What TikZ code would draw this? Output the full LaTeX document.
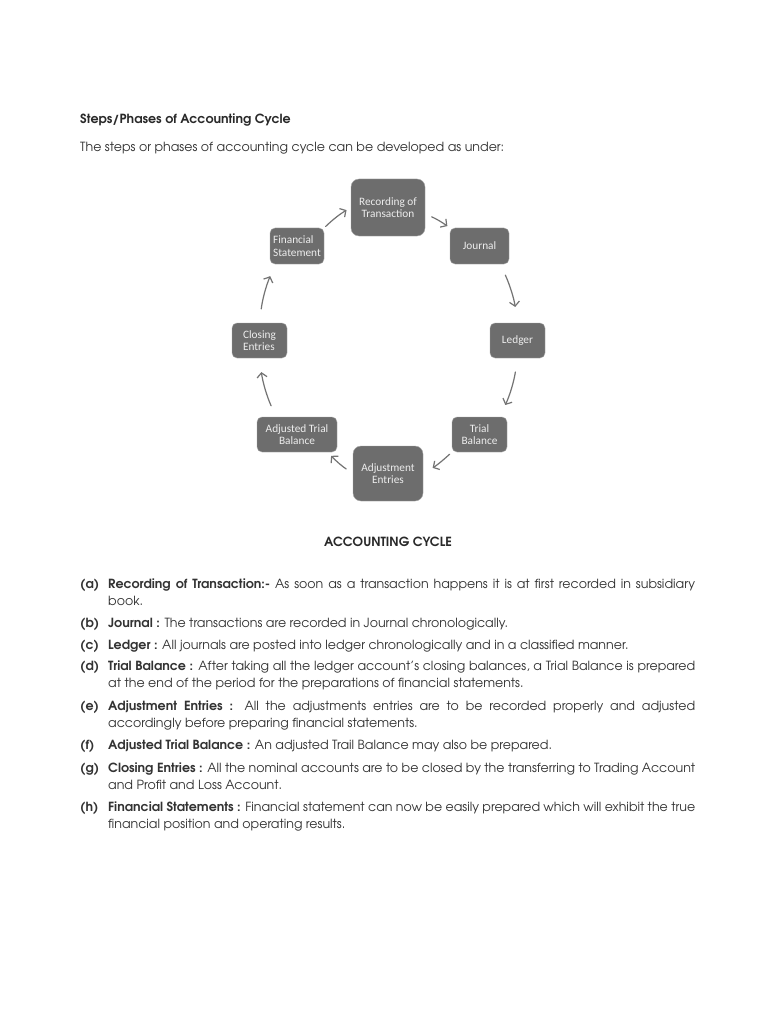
\documentclass[tikz,border=0pt]{standalone}
\usepackage{fontspec}
\setmainfont{TeX Gyre Adventor}
\newfontfamily\boxfont{Carlito}
\usetikzlibrary{arrows.meta}
\definecolor{boxgray}{HTML}{6D6D6D}
\definecolor{arrgray}{HTML}{737373}
\definecolor{txtgray}{HTML}{333333}
\hyphenpenalty=10000
\exhyphenpenalty=10000
\begin{document}
\begin{tikzpicture}[x=1pt,y=-1pt,line join=round,line cap=round,
	stage/.style={draw=boxgray!60,fill=boxgray,rounded corners=5pt,text=white!93!black,font=\boxfont\fontsize{11.3}{12.5}\selectfont,align=center,inner sep=2pt},
	cyc/.style={draw=arrgray,line width=1.2pt,-{Straight Barb[length=4.5pt,width=10pt]}},
	head/.style={anchor=base west,inner sep=0pt,text=txtgray!80!black,font=\bfseries\fontsize{12.6}{17}\selectfont},
	lbl/.style={anchor=base west,inner sep=0pt,text=txtgray,font=\bfseries\fontsize{12.6}{17}\selectfont},
	item/.style={anchor=base west,inner sep=0pt,text width=587pt,align=justify,text=txtgray,font=\fontsize{12.6}{17}\selectfont}]
	\useasboundingbox[fill=white] (0,0) rectangle (768,1024);
	\node[head] (title) at (80,124) {Steps/Phases of Accounting Cycle};
	\node[item,text width=] (intro) at (80,152) {The steps or phases of accounting cycle can be developed as under:};
	\node[stage,minimum width=74pt,minimum height=57pt,rounded corners=8pt] (rec) at (388,207.5) {Recording of\\Transaction};
	\node[stage,minimum width=59pt,minimum height=36pt] (jour) at (479.5,246) {Journal};
	\node[stage,minimum width=55pt,minimum height=35pt] (led) at (517.5,340.5) {Ledger};
	\node[stage,minimum width=55pt,minimum height=35pt] (trial) at (479.5,434.5) {Trial\\Balance};
	\node[stage,minimum width=70pt,minimum height=55pt,rounded corners=8pt] (adj) at (388,473.5) {Adjustment\\Entries};
	\node[stage,minimum width=80pt,minimum height=35pt] (adjtb) at (297,434.5) {Adjusted Trial\\Balance};
	\node[stage,minimum width=55pt,minimum height=35pt,align=left] (clos) at (259.5,340.5) {Closing\\Entries};
	\node[stage,minimum width=54pt,minimum height=36pt,align=left] (fin) at (297,246) {Financial\\Statement};
	\draw[cyc,shorten <=2pt,shorten >=5pt] (fin.north east) to[bend left=6] (rec.west);
	\draw[cyc,shorten <=7pt,shorten >=3pt] (rec.-10) to[bend left=6] (jour.north west);
	\draw[cyc,shorten <=12pt,shorten >=16pt] (jour.-41) to[bend left=8] (led.north);
	\draw[cyc,shorten <=14pt,shorten >=13pt] (led.south) to[bend left=8] (trial.41);
	\draw[cyc,shorten <=3pt,shorten >=11pt] (trial.south west) to[bend left=6] (adj.east);
	\draw[cyc,shorten <=8pt,shorten >=5pt] (adj.west) to[bend left=6] (adjtb.-30);
	\draw[cyc,shorten <=12pt,shorten >=14pt] (adjtb.140) to[bend left=8] (clos.south);
	\draw[cyc,shorten <=14pt,shorten >=13pt] (clos.north) to[bend left=8] (fin.-140);
	\node[head,anchor=base] (cap) at (388,546) {ACCOUNTING CYCLE};
	\node[lbl] (la) at (80,588) {(a)};
	\node[item] (ia) at (108,588) {\textbf{Recording of Transaction:-} As soon as a transaction happens it is at first recorded in subsidiary\linebreak book.};
	\node[lbl] (lb) at (80,627) {(b)};
	\node[item] (ib) at (108,627) {\textbf{Journal :} The transactions are recorded in Journal chronologically.};
	\node[lbl] (lc) at (80,649) {(c)};
	\node[item] (ic) at (108,649) {\textbf{Ledger :} All journals are posted into ledger chronologically and in a classified manner.};
	\node[lbl] (ld) at (80,670) {(d)};
	\node[item] (id) at (108,670) {\textbf{Trial Balance :} After taking all the ledger account’s closing balances, a Trial Balance is prepared\linebreak at the end of the period for the preparations of financial statements.};
	\node[lbl] (le) at (80,710) {(e)};
	\node[item] (ie) at (108,710) {\textbf{Adjustment Entries :} All the adjustments entries are to be recorded properly and adjusted\linebreak accordingly before preparing financial statements.};
	\node[lbl] (lf) at (80,749) {(f)};
	\node[item] (if) at (108,749) {\textbf{Adjusted Trial Balance :} An adjusted Trail Balance may also be prepared.};
	\node[lbl] (lg) at (80,772) {(g)};
	\node[item] (ig) at (108,772) {\textbf{Closing Entries :} All the nominal accounts are to be closed by the transferring to Trading Account\linebreak and Profit and Loss Account.};
	\node[lbl] (lh) at (80,811) {(h)};
	\node[item] (ih) at (108,811) {\textbf{Financial Statements :} Financial statement can now be easily prepared which will exhibit the true\linebreak financial position and operating results.};
\end{tikzpicture}
\end{document}
